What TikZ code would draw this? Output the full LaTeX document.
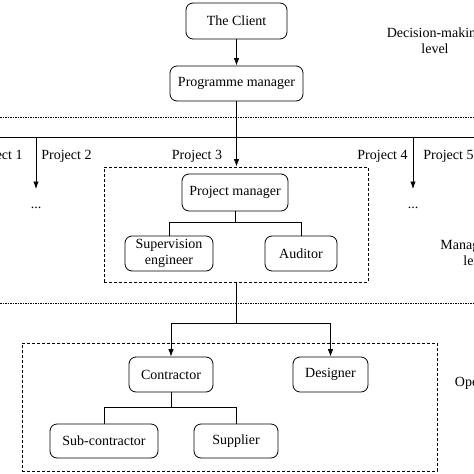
\documentclass[tikz,border=0pt]{standalone}
\usepackage{fontspec}
\setmainfont{Liberation Serif}
\usetikzlibrary{positioning, arrows.meta, calc}
\tikzset{role node/.style={draw, rounded corners=7pt, minimum height=35pt, inner sep=2pt, align=center, font=\fontsize{14}{16.5}\selectfont},
	level text/.style={align=center, font=\fontsize{14}{16}\selectfont},
	project text/.style={inner sep=0pt, font=\fontsize{14}{16}\selectfont},
	group box/.style={draw, dash pattern=on 3pt off 2pt, inner sep=0pt},
	level line/.style={line width=0.6pt, dash pattern=on 1.5pt off 1pt},
	flow/.style={-{Latex[length=7.5pt, width=5.5pt]}},}

\begin{document}
\begin{tikzpicture}[x=1pt, y=-1pt, line width=0.8pt]
			\useasboundingbox (0,0) rectangle (474,474);
			\clip (0,0) rectangle (474,474);
			% Decision-making level
			\node[role node, minimum width=101pt, minimum height=36pt] (client) at (236.5,21) {The Client};
			\node[role node, minimum width=133pt] (prog) at (236.5,83.5) {Programme manager};
			\node[level text] (decision) at (435,40.5) {Decision-making\\level};
			\coordinate (topL) at (0,117);
			\coordinate (topR) at (474,117);
			% Management level
			\coordinate (barL) at (0,137);
			\coordinate (barR) at (474,137);
			\coordinate (bar) at (236.5,137);
			\coordinate (p2top) at (36,137);
			\coordinate (p2end) at (36,189);
			\coordinate (p4top) at (413,137);
			\coordinate (p4end) at (413,189);
			\node[project text, anchor=east] (proj1) at (23,156) {Project 1};
			\node[project text, anchor=west] (proj2) at (41,156) {Project 2};
			\node[project text] (proj3) at (197,156) {Project 3};
			\node[project text, anchor=east] (proj4) at (408,156) {Project 4};
			\node[project text, anchor=west] (proj5) at (423,156) {Project 5};
			\node[project text] (dots2) at (36,208) {...};
			\node[project text] (dots4) at (413,208) {...};
			\node[group box, minimum width=264pt, minimum height=115pt] (projbox) at (236,224.5) {};
			\node[role node, minimum width=106pt, minimum height=37pt] (pm) at (235,192.5) {Project manager};
			\node[role node, minimum width=88pt] (super) at (169,253.5) {Supervision\\engineer};
			\node[role node, minimum width=72pt] (audit) at (301,253.5) {Auditor};
			\node[level text] (manage) at (477,252.5) {Management\\level};
			\coordinate (midL) at (0,303);
			\coordinate (midR) at (474,303);
			% Operational level
			\node[group box, minimum width=415pt, minimum height=128pt] (opbox) at (229.5,407) {};
			\node[role node, minimum width=84pt] (contr) at (171,374.5) {Contractor};
			\node[role node, minimum width=75pt] (design) at (330.5,374.5) {Designer};
			\node[role node, minimum width=108pt, minimum height=34pt] (subcon) at (104,441) {Sub-contractor};
			\node[role node, minimum width=84pt, minimum height=34pt] (supply) at (236,441) {Supplier};
			\node[level text] (operate) at (488,390) {Operational\\level};
			% Paths
			\draw[level line] (topL) -- (topR);
			\draw[level line] (midL) -- (midR);
			\draw[flow] (client) -- (prog);
			\draw (prog) -- (bar);
			\draw (barL) -- (barR);
			\draw[flow] (p2top) -- (p2end);
			\draw[flow] (p4top) -- (p4end);
			\draw[flow] (bar) -- (bar |- projbox.north);
			\draw (pm.south) -- ++(0,11) coordinate (pmsplit);
			\draw (pmsplit) -| (super.north);
			\draw (pmsplit) -| (audit.north);
			\draw (projbox.south) -- ++(0,41) coordinate (opsplit);
			\draw[flow] (opsplit) -| (contr.north);
			\draw[flow] (opsplit) -| (design.north);
			\draw (contr.south) -- ++(0,15) coordinate (consplit);
			\draw (consplit) -| (subcon.north);
			\draw (consplit) -| (supply.north);
		\end{tikzpicture}
\end{document}
